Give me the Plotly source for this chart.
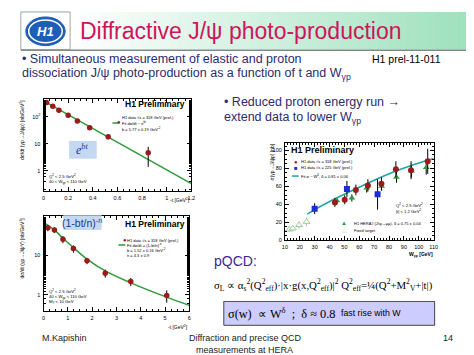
import plotly.graph_objects as go

W, H = 474, 355
def px(x): return x / W
def py(y): return 1 - y / H

SANS = "Liberation Sans"
SERIF = "Liberation Serif"
NAVY = "#2b2b70"

# ---------------- data ----------------
# panel 1: elastic dsigma/dt
t_el = [0.025, 0.075, 0.125, 0.2, 0.275, 0.375, 0.525, 0.85]
ds_el = [330, 238, 170, 112, 68, 39, 18, 4.6]
ds_el_ep = [14, 10, 7, 5, 3.5, 2.5, 3.5, 3.1]
ds_el_em = [14, 10, 7, 5, 3.5, 2.5, 3.5, 3.2]
fit_el_t = [0, 1.2]
fit_el_v = [380, 0.34]

# panel 2: proton dissociation dsigma/dt
t_pd = [0.18, 0.45, 0.8, 1.23, 1.79, 2.54, 3.59, 5.07]
ds_pd = [49, 43, 25, 14.6, 7.2, 3.5, 2.15, 0.96]
ds_pd_e = [9, 7, 5, 3, 1.3, 0.8, 0.5, 0.33]
fit_pd_t = [0, 0.18, 0.45, 0.8, 1.23, 1.79, 2.54, 3.59, 5.07, 6]
fit_pd_v = [68, 56, 43, 26.6, 15.5, 7.9, 4.0, 2.0, 0.87, 0.54]

# panel 3: sigma vs W
W318 = [43.6, 50.2, 57.7, 65.8, 74.9, 84.6, 94.8, 106]
s318 = [42, 45, 56, 61, 63, 79, 78, 88]
e318 = [5, 5, 6, 7, 7, 9, 10, 14]
W225 = [30, 51.7, 72.3]
s225 = [35, 57, 51]
e225 = [6, 9, 17]
Whera = [45, 55, 65, 75, 85, 95, 105]
shera = [44, 47, 58, 60, 70, 77, 81]
ehera = [4, 4, 5, 5, 6, 7, 8]
Wfix = [12.9, 15.3, 19.5, 24.6]
sfix = [11.8, 12.9, 16.7, 20.3]
efix = [3, 3, 4, 5]
fitW = [25, 40, 60, 80, 100, 110]
fitS = [29, 43, 59, 74, 86, 91]

RED = "#9b1b1b"
GREEN = "#2e9a3a"
TEAL = "#1fa3a3"
BLUE = "#1f2bd8"

fig = go.Figure()

def errbar(arr, arrm=None):
    d = dict(type="data", array=arr, color="black", thickness=1, width=0)
    if arrm is not None:
        d["arrayminus"] = arrm
        d["symmetric"] = False
    return d

# panel 1
fig.add_trace(go.Scatter(x=fit_el_t, y=fit_el_v, mode="lines",
                         line=dict(color=GREEN, width=1.5), xaxis="x", yaxis="y"))
fig.add_trace(go.Scatter(x=t_el, y=ds_el, mode="markers",
                         marker=dict(color=RED, size=5.5, symbol="circle"),
                         error_y=errbar(ds_el_ep, ds_el_em), xaxis="x", yaxis="y"))
# panel 2
fig.add_trace(go.Scatter(x=fit_pd_t, y=fit_pd_v, mode="lines", line_shape="spline",
                         line=dict(color=GREEN, width=1.5), xaxis="x2", yaxis="y2"))
fig.add_trace(go.Scatter(x=t_pd, y=ds_pd, mode="markers",
                         marker=dict(color=RED, size=5.5, symbol="circle"),
                         error_y=errbar(ds_pd_e), xaxis="x2", yaxis="y2"))
# panel 3
fig.add_trace(go.Scatter(x=Wfix, y=sfix, mode="markers",
                         marker=dict(color="white", size=6, symbol="triangle-up",
                                     line=dict(color="#9acb9a", width=1)),
                         error_y=dict(type="data", array=efix, color="#9acb9a", thickness=1, width=0),
                         xaxis="x3", yaxis="y3"))
fig.add_trace(go.Scatter(x=Whera, y=shera, mode="markers",
                         marker=dict(color=GREEN, size=6, symbol="triangle-up"),
                         error_y=errbar(ehera), xaxis="x3", yaxis="y3"))
fig.add_trace(go.Scatter(x=fitW, y=fitS, mode="lines", line_shape="spline",
                         line=dict(color=TEAL, width=1.5), xaxis="x3", yaxis="y3"))
fig.add_trace(go.Scatter(x=W318, y=s318, mode="markers",
                         marker=dict(color=RED, size=6, symbol="circle"),
                         error_y=errbar(e318), xaxis="x3", yaxis="y3"))
fig.add_trace(go.Scatter(x=W225, y=s225, mode="markers",
                         marker=dict(color=BLUE, size=6, symbol="square"),
                         error_y=errbar(e225), xaxis="x3", yaxis="y3"))

tickfont = dict(family=SANS, size=5.5, color="black")
common = dict(showgrid=False, zeroline=False, showline=True, linecolor="black",
              linewidth=1, mirror="allticks", ticks="inside", ticklen=4,
              tickcolor="black", tickfont=tickfont, ticklabelstandoff=1)

fig.update_layout(
    width=W, height=H, margin=dict(l=0, r=0, t=0, b=0),
    paper_bgcolor="white", plot_bgcolor="white", showlegend=False,
    xaxis=dict(domain=[px(33), px(183)], anchor="y", range=[0, 1.2],
               tickvals=[0, 0.2, 0.4, 0.6, 0.8, 1.0, 1.2],
               ticktext=["0", "0.2", "0.4", "0.6", "0.8", "1", "1.2"],
               minor=dict(ticks="inside", ticklen=2, dtick=0.05, tickcolor="black"), **common),
    yaxis=dict(domain=[py(185), py(92)], anchor="x", type="log", range=[-0.76, 2.64],
               tickvals=[1, 10, 100], ticktext=["1", "10", "10<sup>2</sup>"],
               minor=dict(ticks="inside", ticklen=2, tickcolor="black"), **common),
    xaxis2=dict(domain=[px(33), px(181)], anchor="y2", range=[0, 6], dtick=1,
                minor=dict(ticks="inside", ticklen=2, dtick=0.25, tickcolor="black"), **common),
    yaxis2=dict(domain=[py(306), py(210)], anchor="x2", type="log", range=[-0.42, 1.98],
                tickvals=[1, 10], ticktext=["1", "10"],
                minor=dict(ticks="inside", ticklen=2, tickcolor="black"), **common),
    xaxis3=dict(domain=[px(278), px(429)], anchor="y3", range=[10, 110], dtick=10,
                minor=dict(ticks="inside", ticklen=2, dtick=2, tickcolor="black"), **common),
    yaxis3=dict(domain=[py(234), py(136.5)], anchor="x3", range=[0, 108], dtick=20,
                minor=dict(ticks="inside", ticklen=2, dtick=5, tickcolor="black"), **common),
)

shapes = []
ann = []

def text(x, y, s, size=12, color="black", family=SANS, xanchor="left", yanchor="middle",
         angle=0, bold=False):
    if bold:
        s = "<b>" + s + "</b>"
    ann.append(dict(x=px(x), y=py(y), xref="paper", yref="paper", text=s, showarrow=False,
                    xanchor=xanchor, yanchor=yanchor, textangle=angle, borderpad=0,
                    font=dict(family=family, size=size, color=color)))

def glyph(x, y, s, color, size=6):
    ann.append(dict(x=px(x), y=py(y), xref="paper", yref="paper", text=s, showarrow=False,
                    borderpad=0, font=dict(size=size, color=color)))

# ---- header: gradient band
n = 40
x0, x1 = 60, 462
for i in range(n):
    f = i / (n - 1)
    r = int(255 + (160 - 255) * f)
    g = int(255 + (226 - 255) * f)
    b = int(255 + (190 - 255) * f)
    xa = x0 + (x1 - x0) * i / n
    xb = x0 + (x1 - x0) * (i + 1) / n + 0.5
    shapes.append(dict(type="rect", xref="paper", yref="paper", x0=px(xa), x1=px(xb),
                       y0=py(42), y1=py(4), fillcolor=f"rgb({r},{g},{b})", line=dict(width=0),
                       layer="below"))
shapes.append(dict(type="rect", xref="paper", yref="paper", x0=px(10), x1=px(60), y0=py(42), y1=py(4),
                   fillcolor="white", line=dict(color="#9aa8a0", width=1), layer="below"))
shapes.append(dict(type="line", xref="paper", yref="paper", x0=px(10), x1=px(462), y0=py(42.5), y1=py(42.5),
                   line=dict(color="#808a88", width=1.5)))
# logo
shapes.append(dict(type="circle", xref="paper", yref="paper", x0=px(15), x1=px(55), y0=py(38), y1=py(9),
                   fillcolor="#1d5fb8", line=dict(color="#1d5fb8", width=1)))
shapes.append(dict(type="circle", xref="paper", yref="paper", x0=px(18), x1=px(52), y0=py(35), y1=py(12),
                   fillcolor="rgba(0,0,0,0)", line=dict(color="white", width=1.5)))
text(35, 23.5, "<i>H1</i>", size=13, color="white", xanchor="center", bold=True)

text(69, 23, "Diffractive J/ψ photo-production", size=23, color="#d0145a")

text(10, 51, "• Simultaneous measurement of elastic and proton", size=12.5, color=NAVY)
text(10, 67, "dissociation J/ψ photo-production as a function of t and W<sub>γp</sub>", size=12.5, color=NAVY)
text(365, 51, "H1 prel-11-011", size=10.5, color="black")

text(215, 95, "• Reduced proton energy run →", size=12.5, color=NAVY)
text(215, 111, "extend data to lower W<sub>γp</sub>", size=12.5, color=NAVY)

text(205, 255, "pQCD:", size=14, color="#3a2a90")
text(205, 279, "σ<sub>L</sub> ∝ α<sub>s</sub><sup>2</sup>(Q<sup>2</sup><sub>eff</sub>)·|x·g(x,Q<sup>2</sup><sub>eff</sub>)|<sup>2</sup> "
     "Q<sup>2</sup><sub>eff</sub>=¼(Q<sup>2</sup>+M<sup>2</sup><sub>V</sub>+|t|)", size=10.8, family=SERIF)
shapes.append(dict(type="line", xref="paper", yref="paper", x0=px(216), x1=px(430), y0=py(296), y1=py(296),
                   line=dict(color="#555", width=1)))
shapes.append(dict(type="rect", xref="paper", yref="paper", x0=px(216), x1=px(430), y0=py(320), y1=py(296),
                   fillcolor="#ccccff", line=dict(color="#444", width=1), layer="below"))
text(219, 308, "σ(w)  ∝ W<sup>δ</sup>  ;  δ ≈ 0.8", size=12.3, family=SERIF)
text(334, 308, "fast rise with W", size=8.8, color="black")

# footer
text(30, 333, "M.Kapishin", size=9, color="#222")
text(237, 333, "Diffraction and precise QCD", size=9, color="#222", xanchor="center")
text(237, 345, "measurements at HERA", size=9, color="#222", xanchor="center")
text(444, 333, "14", size=9, color="#222", xanchor="center")

# ---- panel 1 texts
text(178, 97, "H1 Preliminary", size=8.5, xanchor="right", bold=True)
glyph(107, 110, "●", RED)
text(112, 110, "H1 data √s = 318 GeV (prel.)", size=4)
shapes.append(dict(type="line", xref="paper", yref="paper", x0=px(103), x1=px(110), y0=py(116), y1=py(116),
                   line=dict(color=GREEN, width=1.5)))
text(112, 116, "Fit dσ/dt ~ e<sup>bt</sup>", size=4)
text(112, 122, "b = 5.77 ± 0.19 GeV<sup>-2</sup>", size=4)
text(38, 169, "Q<sup>2</sup> < 2.5 GeV<sup>2</sup>", size=4.2)
text(38, 175, "40 < W<sub>γp</sub> < 110 GeV", size=4.2)
shapes.append(dict(type="rect", xref="paper", yref="paper", x0=px(59), x1=px(87), y0=py(152), y1=py(134),
                   fillcolor="#c4d9f1", line=dict(width=0)))
text(73, 143, "<i>e<sup>bt</sup></i>", size=12, family=SERIF, color="#203a8a", xanchor="center")
text(183, 194, "-t [GeV<sup>2</sup>]", size=5, xanchor="right")
text(11, 92, "dσ/dt (γp→J/ψp) [nb/GeV<sup>2</sup>]", size=5, angle=-90, xanchor="center", yanchor="top")

# ---- panel 2 texts
text(178, 218, "H1 Preliminary", size=8.5, xanchor="right", bold=True)
glyph(113, 234, "●", RED)
text(117, 234, "H1 data √s = 318 GeV (prel.)", size=4)
shapes.append(dict(type="line", xref="paper", yref="paper", x0=px(109), x1=px(116), y0=py(239), y1=py(239),
                   line=dict(color=GREEN, width=1.5)))
text(117, 239, "Fit dσ/dt = (1-bt/n)<sup>-n</sup>", size=4)
text(117, 244.5, "b = 1.52 ± 0.16 GeV<sup>-2</sup>", size=4)
text(117, 249.5, "n = 4.3 ± 0.9", size=4)
text(38, 285, "Q<sup>2</sup> < 2.5 GeV<sup>2</sup>", size=4.2)
text(38, 291, "40 < W<sub>γp</sub> < 110 GeV", size=4.2)
text(38, 297, "M<sub>Y</sub> < 10 GeV", size=4.2)
shapes.append(dict(type="rect", xref="paper", yref="paper", x0=px(53), x1=px(92), y0=py(224), y1=py(209),
                   fillcolor="#c4d9f1", line=dict(width=0)))
text(72.5, 216.5, "(1-bt/n)<sup>-n</sup>", size=10.5, color="#203a8a", xanchor="center")
text(181, 322, "-t [GeV<sup>2</sup>]", size=5, xanchor="right")
text(11, 210, "dσ/dt (γp→J/ψY) [nb/GeV<sup>2</sup>]", size=5, angle=-90, xanchor="center", yanchor="top")

# ---- panel 3 texts
text(283, 143, "H1 Preliminary", size=9, bold=True)
glyph(289, 155, "●", RED)
text(293, 155, "H1 data √s = 318 GeV (prel.)", size=4)
glyph(289, 161, "■", BLUE)
text(293, 161, "H1 data √s = 225 GeV (prel.)", size=4)
shapes.append(dict(type="line", xref="paper", yref="paper", x0=px(285), x1=px(292), y0=py(169.5), y1=py(169.5),
                   line=dict(color=TEAL, width=1.5)))
text(293, 169.5, "Fit σ ~ W<sup>δ</sup>, δ = 0.81 ± 0.06", size=4)
text(390, 199, "Q<sup>2</sup> < 2.5 GeV<sup>2</sup>", size=4.2)
text(390, 205, "|t| < 1.2 GeV<sup>2</sup>", size=4.2)
glyph(342, 217, "▲", GREEN)
text(347, 217, "H1 HERA I (J/ψ→μμ), δ = 0.75 ± 0.04", size=4)
glyph(342, 224, "△", "#9acb9a")
text(347, 224, "Fixed target", size=4)
text(429, 248.5, "W<sub>γp</sub> [GeV]", size=5, xanchor="right", bold=True)
text(265, 136, "σ(γp→J/ψp) [nb]", size=5, angle=-90, xanchor="center", yanchor="top")

fig.update_layout(shapes=shapes, annotations=ann)
fig.write_html("out.html")
